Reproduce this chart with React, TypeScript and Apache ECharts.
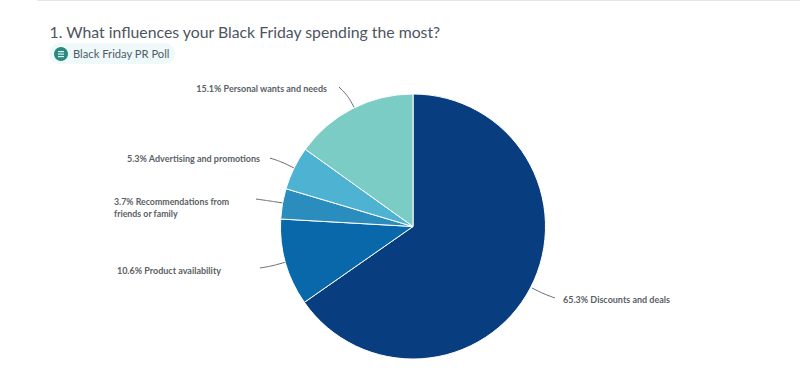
import React, { useEffect, useRef } from "react";
import * as echarts from "echarts";

const titleText = "1. What influences your Black Friday spending the most?";
const chipText = "Black Friday PR Poll";
const categories = [
  "Discounts and deals",
  "Product availability",
  "Recommendations from\nfriends or family",
  "Advertising and promotions",
  "Personal wants and needs",
];
const values = [65.3, 10.6, 3.7, 5.3, 15.1];
const colors = ["#083d7f", "#0868aa", "#2b8cbe", "#4eb3d3", "#7bccc4"];

const FONT = "Lato, 'Noto Sans', sans-serif";

const layouts = [
  { x: 563, y: 299.5, align: "left", size: 9, line: [[532, 288], [544, 294], [555, 298]] },
  { x: 221, y: 270.5, align: "right", size: 9, line: [[286, 262], [272, 266], [260, 268]] },
  { x: 114, y: 207, align: "left", size: 8.8, line: [[283, 203], [270, 201], [256, 199]] },
  { x: 260, y: 158.5, align: "right", size: 9, line: [[294, 168], [282, 162], [270, 158]] },
  { x: 327, y: 88.5, align: "right", size: 9, line: [[355, 109], [348, 96], [339, 87]] },
];

export default function App() {
  const ref = useRef<HTMLDivElement>(null);
  useEffect(() => {
    const chart = echarts.init(ref.current!, undefined, { renderer: "svg" });
    chart.setOption({
      animation: false,
      backgroundColor: "#ffffff",
      graphic: [
        { type: "rect", shape: { x: 37, y: 0, width: 763, height: 1 }, style: { fill: "#e6e6e6" } },
        {
          type: "text", x: 49.5, y: 31,
          style: { text: titleText, font: `400 15.8px ${FONT}`, fill: "#4d5561", verticalAlign: "middle" },
        },
        { type: "rect", shape: { x: 49, y: 43, width: 126, height: 21, r: 10.5 }, style: { fill: "#eff9fa" } },
        { type: "circle", shape: { cx: 61, cy: 54, r: 7 }, style: { fill: "#2a8a80" } },
        { type: "rect", shape: { x: 58, y: 51, width: 6, height: 1.2 }, style: { fill: "#dff2f0" } },
        { type: "rect", shape: { x: 58, y: 53.5, width: 6, height: 1.2 }, style: { fill: "#dff2f0" } },
        { type: "rect", shape: { x: 58, y: 56, width: 6, height: 1.2 }, style: { fill: "#dff2f0" } },
        {
          type: "text", x: 73, y: 53.5,
          style: { text: chipText, font: `400 11.2px ${FONT}`, fill: "#4d5d68", verticalAlign: "middle" },
        },
      ],
      series: [
        {
          type: "pie",
          center: [413, 226.5],
          radius: [0, 132.5],
          startAngle: 90,
          clockwise: true,
          data: categories.map((name, i) => ({
            name,
            value: values[i],
            itemStyle: { color: colors[i], borderColor: "#ffffff", borderWidth: 1 },
            label: { fontSize: layouts[i].size },
          })),
          label: {
            show: true,
            formatter: (p: any) => `${p.value.toFixed(1)}% ${p.name}`,
            fontFamily: FONT,
            fontWeight: 700,
            color: "#5a5f66",
            lineHeight: 12,
          },
          labelLine: { show: true, smooth: 0.3, lineStyle: { color: "#666b73", width: 1 } },
          labelLayout: (p: any) => {
            const l = layouts[p.dataIndex];
            return { x: l.x, y: l.y, align: l.align, verticalAlign: "middle", labelLinePoints: l.line };
          },
          emphasis: { disabled: true },
        },
      ],
    });
    return () => chart.dispose();
  }, []);
  return <div ref={ref} style={{ position: "absolute", left: 0, top: 0, width: 800, height: 379 }} />;
}
